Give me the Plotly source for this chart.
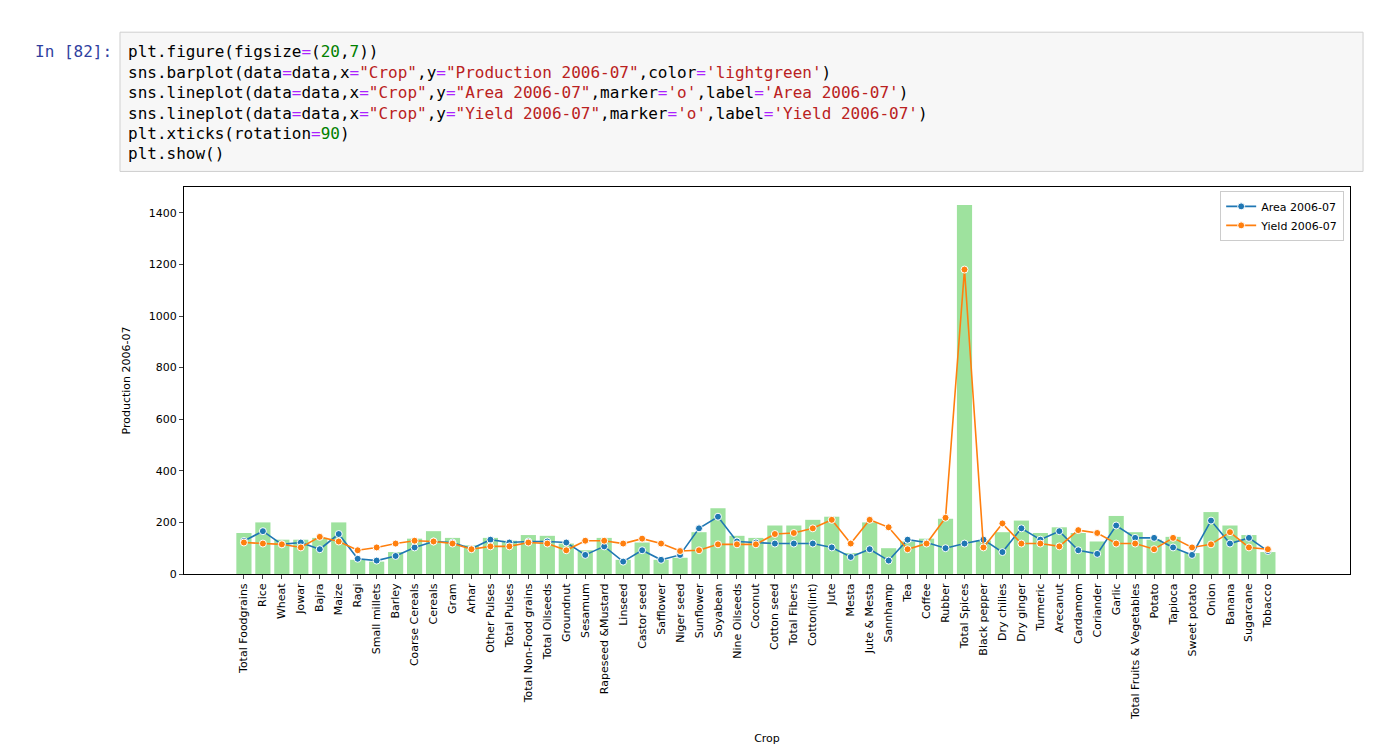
import plotly.graph_objects as go

crops = ["Total Foodgrains", "Rice", "Wheat", "Jowar", "Bajra", "Maize", "Ragi", "Small millets",
         "Barley", "Coarse Cereals", "Cereals", "Gram", "Arhar", "Other Pulses", "Total Pulses",
         "Total Non-Food grains", "Total Oilseeds", "Groundnut", "Sesamum", "Rapeseed &Mustard",
         "Linseed", "Castor seed", "Safflower", "Niger seed", "Sunflower", "Soyabean", "Nine Oilseeds",
         "Coconut", "Cotton seed", "Total Fibers", "Cotton(lint)", "Jute", "Mesta", "Jute & Mesta",
         "Sannhamp", "Tea", "Coffee", "Rubber", "Total Spices", "Black pepper", "Dry chilies",
         "Dry ginger", "Turmeric", "Arecanut", "Cardamom", "Coriander", "Garlic",
         "Total Fruits & Vegetables", "Potato", "Tapioca", "Sweet potato", "Onion", "Banana",
         "Sugarcane", "Tobacco"]

production = [159, 200, 133, 133, 140, 200, 55, 48, 85, 137, 166, 140, 111, 140, 129, 151, 148,
              118, 92, 140, 55, 122, 55, 63, 162, 255, 148, 140, 188, 188, 210, 222, 81, 200, 100,
              126, 137, 214, 1430, 130, 162, 207, 159, 181, 159, 126, 225, 162, 133, 144, 81, 240,
              188, 151, 85]

area = [128, 166, 115, 122, 96, 155, 59, 52, 70, 103, 126, 122, 98, 133, 122, 126, 126, 122, 74,
        107, 48, 92, 55, 74, 177, 222, 126, 122, 118, 118, 118, 103, 66, 96, 52, 133, 122, 100, 118,
        133, 85, 177, 133, 166, 92, 78, 188, 140, 140, 103, 74, 207, 118, 140, 89]

yield_ = [122, 118, 115, 103, 144, 126, 92, 103, 118, 129, 126, 118, 96, 107, 107, 122, 118, 92,
          129, 129, 118, 137, 118, 89, 92, 115, 115, 115, 155, 159, 177, 210, 118, 210, 181, 96, 118,
          218, 1180, 103, 196, 118, 118, 107, 170, 159, 118, 118, 96, 140, 103, 115, 162, 103, 96]

fig = go.Figure()
fig.add_trace(go.Bar(x=crops, y=production, marker_color="#9ee29e", marker_line_width=0,
                     width=0.8, showlegend=False))
for name, vals, color in (("Area 2006-07", area, "#1f77b4"), ("Yield 2006-07", yield_, "#ff7f0e")):
    fig.add_trace(go.Scatter(x=crops, y=vals, name=name, mode="lines+markers",
                             line=dict(color=color, width=1.6),
                             marker=dict(size=7, color=color, line=dict(color="white", width=1))))

fig.update_xaxes(type="category", range=[-3.16, 58.33], tickangle=-90, showline=True,
                 linecolor="black", linewidth=1, mirror=True, ticks="outside", ticklen=4,
                 title=dict(text="Crop", font=dict(size=11)), tickfont=dict(size=11))
fig.update_yaxes(range=[0, 1500], tickvals=list(range(0, 1401, 200)), showgrid=False, zeroline=False,
                 showline=True, linecolor="black", linewidth=1, mirror=True, ticks="outside",
                 ticklen=4, title=dict(text="Production 2006-07", font=dict(size=11)),
                 tickfont=dict(size=11))

# notebook cell: prompt + code box
fig.add_shape(type="rect", xref="paper", yref="paper", x0=-0.0549, x1=1.0112, y0=1.4, y1=1.0402,
              fillcolor="#f7f7f7", line=dict(color="#cfcfcf", width=1), layer="below")
P = "#aa22ff"
S = "#ba2121"
N = "#008000"
code = [
    f"plt.figure(figsize<span style='color:{P}'>=</span>(<span style='color:{N}'>20</span>,<span style='color:{N}'>7</span>))",
    f"sns.barplot(data<span style='color:{P}'>=</span>data,x<span style='color:{P}'>=</span><span style='color:{S}'>\"Crop\"</span>,y<span style='color:{P}'>=</span><span style='color:{S}'>\"Production 2006-07\"</span>,color<span style='color:{P}'>=</span><span style='color:{S}'>'lightgreen'</span>)",
    f"sns.lineplot(data<span style='color:{P}'>=</span>data,x<span style='color:{P}'>=</span><span style='color:{S}'>\"Crop\"</span>,y<span style='color:{P}'>=</span><span style='color:{S}'>\"Area 2006-07\"</span>,marker<span style='color:{P}'>=</span><span style='color:{S}'>'o'</span>,label<span style='color:{P}'>=</span><span style='color:{S}'>'Area 2006-07'</span>)",
    f"sns.lineplot(data<span style='color:{P}'>=</span>data,x<span style='color:{P}'>=</span><span style='color:{S}'>\"Crop\"</span>,y<span style='color:{P}'>=</span><span style='color:{S}'>\"Yield 2006-07\"</span>,marker<span style='color:{P}'>=</span><span style='color:{S}'>'o'</span>,label<span style='color:{P}'>=</span><span style='color:{S}'>'Yield 2006-07'</span>)",
    f"plt.xticks(rotation<span style='color:{P}'>=</span><span style='color:{N}'>90</span>)",
    "plt.show()",
]
for i, line in enumerate(code):
    fig.add_annotation(xref="paper", yref="paper", x=-0.0498, y=1.349 - i * 0.0527,
                       text=line, showarrow=False, xanchor="left", yanchor="middle",
                       font=dict(family="DejaVu Sans Mono", size=16, color="#000"))
fig.add_annotation(xref="paper", yref="paper", x=-0.0600, y=1.349, text="In [82]:",
                   showarrow=False, xanchor="right", yanchor="middle",
                   font=dict(family="DejaVu Sans Mono", size=16, color="#303f9f"))

fig.update_layout(
    width=1373, height=747, plot_bgcolor="white", paper_bgcolor="white",
    margin=dict(l=176, r=31, t=179, b=162),
    font=dict(family="DejaVu Sans", color="black"),
    bargap=0.2,
    legend=dict(x=0.995, y=0.99, xanchor="right", yanchor="top", bordercolor="#cccccc",
                borderwidth=1, font=dict(size=11), bgcolor="rgba(255,255,255,0.8)"),
)
fig.write_html("out.html")
